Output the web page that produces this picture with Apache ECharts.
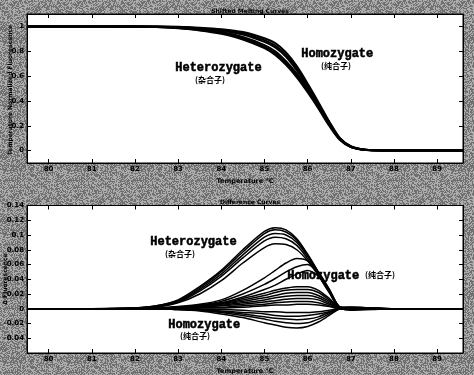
<!DOCTYPE html>
<html><head><meta charset="utf-8">
<script src="https://cdn.jsdelivr.net/npm/echarts@6/dist/echarts.min.js"></script>
<style>html,body{margin:0;padding:0;background:#8e8e8e;}#c{width:474px;height:375px;}</style>
</head><body><div id="c"></div>
<script>
// ---- data ----
var xTicks = [80, 81, 82, 83, 84, 85, 86, 87, 88, 89];
var yTicksTop = [0, 0.2, 0.4, 0.6, 0.8, 1];
var yTicksDiff = [-0.04, -0.02, 0, 0.02, 0.04, 0.06, 0.08, 0.1, 0.12, 0.14];

var tempsTop = [79.5, 80, 81, 82, 82.5, 83, 83.5, 84, 84.5, 85, 85.25, 85.5, 85.75, 86, 86.25, 86.5, 86.75, 87, 87.25, 87.5, 88, 89, 89.6];
var homoTopA = [1, 1, 1, 1, 1, 0.997, 0.99, 0.978, 0.955, 0.905, 0.865, 0.79, 0.68, 0.54, 0.39, 0.235, 0.1, 0.035, 0.01, 0.003, 0, 0, 0];
var homoTopB = [1, 1, 1, 1, 0.999, 0.995, 0.986, 0.972, 0.945, 0.89, 0.845, 0.77, 0.66, 0.525, 0.38, 0.23, 0.098, 0.034, 0.01, 0.003, 0, 0, 0];
var homoTopC = [1, 1, 1, 1, 0.998, 0.993, 0.983, 0.966, 0.935, 0.875, 0.83, 0.755, 0.645, 0.51, 0.37, 0.225, 0.095, 0.033, 0.01, 0.003, 0, 0, 0];
var hetTopA = [1, 1, 1, 0.999, 0.997, 0.99, 0.977, 0.955, 0.915, 0.85, 0.8, 0.72, 0.62, 0.5, 0.36, 0.215, 0.09, 0.03, 0.009, 0.002, 0, 0, 0];
var hetTopB = [1, 1, 1, 0.999, 0.996, 0.987, 0.972, 0.948, 0.905, 0.835, 0.785, 0.705, 0.605, 0.485, 0.35, 0.21, 0.088, 0.03, 0.009, 0.002, 0, 0, 0];
var hetTopC = [1, 1, 1, 0.998, 0.995, 0.985, 0.968, 0.94, 0.895, 0.825, 0.77, 0.69, 0.59, 0.47, 0.34, 0.2, 0.085, 0.028, 0.008, 0.002, 0, 0, 0];

var tempsDiff = [79.5, 80, 81, 82, 82.5, 83, 83.5, 84, 84.5, 85, 85.25, 85.5, 85.75, 86, 86.25, 86.5, 86.75, 87, 87.5, 88, 89, 89.6];
var hetDiff1 = [0, 0, 0, 0.001, 0.004, 0.012, 0.03, 0.052, 0.08, 0.105, 0.11, 0.107, 0.095, 0.074, 0.05, 0.025, 0.002, 0.001, 0, 0, 0, 0];
var hetDiff2 = [0, 0, 0, 0.001, 0.004, 0.011, 0.028, 0.05, 0.077, 0.102, 0.107, 0.104, 0.093, 0.073, 0.049, 0.025, 0.002, 0.002, 0.001, 0, 0, 0];
var hetDiff3 = [0, 0, 0, 0.001, 0.003, 0.01, 0.026, 0.047, 0.073, 0.097, 0.102, 0.1, 0.09, 0.071, 0.048, 0.024, 0.002, 0.001, 0, 0, 0, 0];
var hetDiff4 = [0, 0, 0, 0.001, 0.003, 0.009, 0.024, 0.044, 0.069, 0.092, 0.097, 0.095, 0.086, 0.068, 0.046, 0.023, 0.002, 0.002, 0.001, 0, 0, 0];
var hetDiff5 = [0, 0, 0, 0, 0.002, 0.008, 0.02, 0.038, 0.062, 0.083, 0.088, 0.087, 0.08, 0.065, 0.045, 0.022, 0.002, 0.001, 0, 0, 0, 0];
var midDiff1 = [0, 0, 0, 0, 0.001, 0.003, 0.006, 0.012, 0.025, 0.042, 0.052, 0.062, 0.068, 0.065, 0.05, 0.027, 0.002, 0, 0, 0, 0, 0];
var midDiff2 = [0, 0, 0, 0, 0.001, 0.002, 0.005, 0.01, 0.02, 0.033, 0.041, 0.05, 0.057, 0.06, 0.048, 0.026, 0.002, 0, 0, 0, 0, 0];
var midDiff3 = [0, 0, 0, 0, 0, 0.002, 0.004, 0.008, 0.016, 0.026, 0.032, 0.04, 0.047, 0.052, 0.044, 0.025, 0.002, 0, 0, 0, 0, 0];
var homoDiffP1 = [0, 0, 0, 0, 0.001, 0.002, 0.004, 0.008, 0.014, 0.021, 0.025, 0.028, 0.03, 0.03, 0.025, 0.014, 0.001, -0.001, 0, 0, 0, 0];
var homoDiffP2 = [0, 0, 0, 0, 0.001, 0.002, 0.004, 0.007, 0.012, 0.018, 0.022, 0.025, 0.026, 0.026, 0.022, 0.012, 0.001, -0.002, -0.001, 0, 0, 0];
var homoDiffP3 = [0, 0, 0, 0, 0, 0.001, 0.003, 0.006, 0.01, 0.015, 0.018, 0.021, 0.022, 0.022, 0.018, 0.01, 0.001, -0.001, 0, 0, 0, 0];
var homoDiffP4 = [0, 0, 0, 0, 0, 0.001, 0.002, 0.005, 0.008, 0.012, 0.015, 0.017, 0.018, 0.018, 0.015, 0.008, 0.001, 0.001, 0, 0, 0, 0];
var homoDiffP5 = [0, 0, 0, 0, 0, 0.001, 0.002, 0.004, 0.006, 0.009, 0.011, 0.013, 0.014, 0.014, 0.012, 0.006, 0.001, -0.001, 0, 0, 0, 0];
var homoDiffP6 = [0, 0, 0, 0, 0, 0, 0.001, 0.002, 0.004, 0.006, 0.008, 0.009, 0.01, 0.01, 0.008, 0.004, 0, 0.001, 0, 0, 0, 0];
var homoDiffP7 = [0, 0, 0, 0, 0, 0, 0.001, 0.001, 0.002, 0.004, 0.005, 0.005, 0.006, 0.006, 0.005, 0.003, 0, 0, 0, 0, 0, 0];
var homoDiffN1 = [0, 0, 0, 0, 0, -0.001, -0.003, -0.007, -0.012, -0.019, -0.022, -0.025, -0.026, -0.024, -0.018, -0.009, 0, 0.002, 0.001, 0, 0, 0];
var homoDiffN2 = [0, 0, 0, 0, 0, -0.001, -0.002, -0.005, -0.009, -0.014, -0.017, -0.019, -0.02, -0.019, -0.014, -0.007, 0, 0.001, 0, 0, 0, 0];
var homoDiffN3 = [0, 0, 0, 0, 0, -0.001, -0.002, -0.004, -0.007, -0.011, -0.013, -0.014, -0.015, -0.014, -0.011, -0.005, 0, 0.001, 0.001, 0, 0, 0];
var homoDiffN4 = [0, 0, 0, 0, 0, 0, -0.001, -0.003, -0.005, -0.007, -0.009, -0.01, -0.01, -0.009, -0.007, -0.004, 0, -0.001, 0, 0, 0, 0];
var homoDiffN5 = [0, 0, 0, 0, 0, 0, -0.001, -0.001, -0.002, -0.004, -0.004, -0.005, -0.005, -0.005, -0.004, -0.002, 0, 0, 0, 0, 0, 0];

var topCurves = [homoTopA, homoTopB, homoTopC, hetTopA, hetTopB, hetTopC];
var diffCurves = [hetDiff1, hetDiff2, hetDiff3, hetDiff4, hetDiff5, midDiff1, midDiff2, midDiff3,
  homoDiffP1, homoDiffP2, homoDiffP3, homoDiffP4, homoDiffP5, homoDiffP6, homoDiffP7,
  homoDiffN1, homoDiffN2, homoDiffN3, homoDiffN4, homoDiffN5];

// ---- chart ----
function pairs(xs, ys) { return xs.map(function (x, i) { return [x, ys[i]]; }); }
var lblFont = { color: '#000', fontSize: 7, fontWeight: 'bold', fontFamily: 'DejaVu Sans' };
function xAx(gi, pos) {
  return {
    type: 'value', gridIndex: gi, position: pos, min: 79.5, max: 89.6,
    axisLine: { show: true, onZero: false, lineStyle: { color: '#000', width: 1 } },
    axisTick: { show: true, inside: true, length: 4, customValues: xTicks, lineStyle: { color: '#000' } },
    axisLabel: pos === 'bottom' ? Object.assign({ show: true, margin: 3, customValues: xTicks }, lblFont) : { show: false },
    splitLine: { show: false },
    name: pos === 'bottom' ? 'Temperature °C' : '',
    nameLocation: 'middle', nameGap: 15,
    nameTextStyle: { color: '#000', fontSize: 6.5, fontWeight: 'bold', fontFamily: 'DejaVu Sans' }
  };
}
function yAx(gi, pos, mn, mx, ticks) {
  return {
    type: 'value', gridIndex: gi, position: pos, min: mn, max: mx,
    axisLine: { show: true, onZero: false, lineStyle: { color: '#000', width: 1 } },
    axisTick: { show: true, inside: true, length: 4, customValues: ticks, lineStyle: { color: '#000' } },
    axisLabel: pos === 'left' ? Object.assign({ show: true, margin: 3, customValues: ticks }, lblFont) : { show: false },
    splitLine: { show: false }
  };
}
var series = [];
topCurves.forEach(function (c) {
  series.push({ type: 'line', xAxisIndex: 0, yAxisIndex: 0, data: pairs(tempsTop, c), smooth: 0.3,
    showSymbol: false, silent: true, lineStyle: { color: '#000', width: 2 } });
});
diffCurves.forEach(function (c) {
  series.push({ type: 'line', xAxisIndex: 2, yAxisIndex: 2, data: pairs(tempsDiff, c), smooth: 0.3,
    showSymbol: false, silent: true, lineStyle: { color: '#000', width: 1.5 } });
});

var big = { fill: '#000', font: 'bold 12px "Liberation Mono"', stroke: '#000', lineWidth: 0.5 };
var small = { fill: '#000', font: 'bold 8px "Noto Sans CJK SC"' };
function txt(x, y, t, st) { return { type: 'text', left: x, top: y, style: Object.assign({ text: t }, st) }; }
function vtxt(x, y, t) {
  return { type: 'text', x: x, y: y, rotation: Math.PI / 2,
    style: { text: t, align: 'center', verticalAlign: 'middle', fill: '#000', font: 'bold 6px "DejaVu Sans"' } };
}

// deterministic grain for the grey page background (decoration only)
var grain = document.createElement('canvas');
grain.width = 64; grain.height = 64;
(function () {
  var g = grain.getContext('2d'), img = g.createImageData(64, 64), s = 12345;
  for (var i = 0; i < 64 * 64; i++) {
    s = (s * 1103515245 + 12345) & 0x7fffffff;
    var v = ((s >> 16) & 255) > 128 ? 172 : 112;
    img.data[i * 4] = img.data[i * 4 + 1] = img.data[i * 4 + 2] = v; img.data[i * 4 + 3] = 255;
  }
  g.putImageData(img, 0, 0);
})();

var chart = echarts.init(document.getElementById('c'), null, { renderer: 'canvas' });
chart.setOption({
  backgroundColor: { image: grain, repeat: 'repeat' },
  animation: false,
  title: [
    { text: 'Shifted Melting Curves', left: 245, top: 3, textAlign: 'center', textStyle: { color: '#000', fontSize: 6, fontWeight: 'bold', fontFamily: 'DejaVu Sans' } },
    { text: 'Difference Curves', left: 245, top: 194, textAlign: 'center', textStyle: { color: '#000', fontSize: 6, fontWeight: 'bold', fontFamily: 'DejaVu Sans' } }
  ],
  grid: [
    { left: 27, width: 436, top: 14, height: 149, show: true, backgroundColor: '#fff', borderColor: '#000', borderWidth: 1, outerBoundsMode: 'none', containLabel: false },
    { left: 27, width: 436, top: 205.5, height: 147.5, show: true, backgroundColor: '#fff', borderColor: '#000', borderWidth: 1, outerBoundsMode: 'none', containLabel: false }
  ],
  xAxis: [xAx(0, 'bottom'), xAx(0, 'top'), xAx(1, 'bottom'), xAx(1, 'top')],
  yAxis: [
    yAx(0, 'left', -0.1, 1.1, yTicksTop),
    yAx(0, 'right', -0.1, 1.1, yTicksTop),
    yAx(1, 'left', -0.06, 0.14, yTicksDiff),
    yAx(1, 'right', -0.06, 0.14, yTicksDiff)
  ],
  series: series,
  graphic: [
    vtxt(10, 90, 'Temperature Normalized Fluorescence'),
    vtxt(5, 279, 'Δ Fluorescence'),
    txt(175, 62, 'Heterozygate', big),
    txt(195, 76, '(杂合子)', small),
    txt(301, 48, 'Homozygate', big),
    txt(321, 62, '(纯合子)', small),
    txt(150, 236, 'Heterozygate', big),
    txt(165, 250, '(杂合子)', small),
    txt(287, 270, 'Homozygate', big),
    txt(365, 271, '(纯合子)', small),
    txt(168, 319, 'Homozygate', big),
    txt(180, 332, '(纯合子)', small)
  ]
});
</script></body></html>
